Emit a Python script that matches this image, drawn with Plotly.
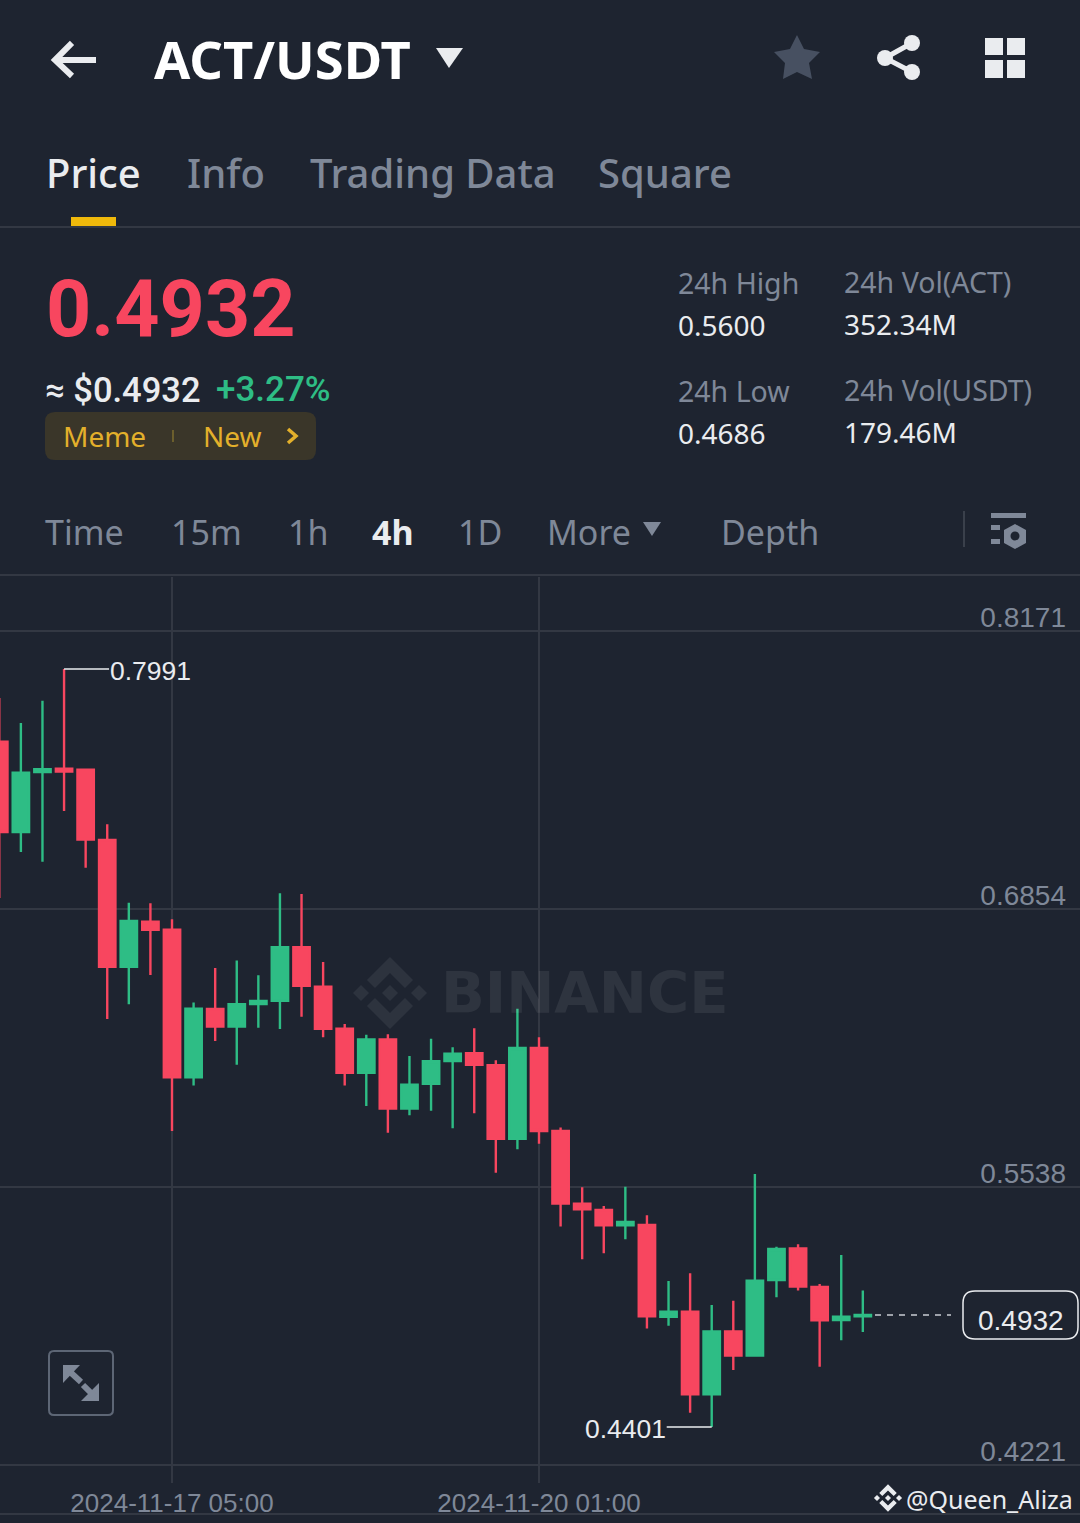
import pandas as pd
import plotly.graph_objects as go

W, H = 1080, 1523

BG = '#1E2430'
GRID = '#333843'
UP = '#2EBD85'
DOWN = '#F8465F'
WHITE = '#EAECEF'
GRAY = '#7F8898'
YELLOW = '#E3B02B'
UI_FONT = 'Noto Sans'
NUM_FONT = 'Roboto'
AXIS_FONT = 'Liberation Sans'

# ACT/USDT 4h candles, first one starts off the left edge
first_candle = '2024-11-15 21:00'
open_ = [0.7647, 0.7219, 0.7503, 0.7519, 0.7514, 0.7181, 0.6581, 0.6794, 0.6756, 0.6057, 0.6381,
         0.6297, 0.6404, 0.6419, 0.6674, 0.6486, 0.6287, 0.6078, 0.6237, 0.5909, 0.6026, 0.6134,
         0.6171, 0.6115, 0.5766, 0.6196, 0.5803, 0.5459, 0.5429, 0.5356, 0.5358, 0.4923, 0.4947,
         0.4556, 0.4854, 0.4739, 0.5097, 0.5247, 0.5064, 0.4907, 0.4925]
high = [0.7854, 0.7735, 0.7841, 0.7991, 0.7518, 0.7256, 0.6884, 0.6881, 0.6806, 0.6411, 0.6575,
        0.6610, 0.6540, 0.6929, 0.6925, 0.6603, 0.6310, 0.6259, 0.6261, 0.6158, 0.6240, 0.6199,
        0.6289, 0.6138, 0.6382, 0.6247, 0.5820, 0.5536, 0.5448, 0.5539, 0.5404, 0.5093, 0.5129,
        0.4979, 0.4999, 0.5599, 0.5255, 0.5266, 0.5078, 0.5216, 0.5047]
low = [0.6906, 0.7124, 0.7078, 0.7318, 0.7050, 0.6333, 0.6403, 0.6542, 0.5803, 0.6018, 0.6229,
       0.6117, 0.6292, 0.6286, 0.6344, 0.6247, 0.6018, 0.5921, 0.5795, 0.5877, 0.5899, 0.5816,
       0.5887, 0.5605, 0.5716, 0.5743, 0.5350, 0.5195, 0.5224, 0.5290, 0.4867, 0.4881, 0.4469,
       0.4401, 0.4671, 0.4734, 0.5015, 0.5048, 0.4686, 0.4812, 0.4851]
close = [0.7219, 0.7500, 0.7517, 0.7505, 0.7183, 0.6581, 0.6798, 0.6756, 0.6057, 0.6382, 0.6297,
         0.6403, 0.6419, 0.6674, 0.6491, 0.6287, 0.6079, 0.6237, 0.5909, 0.6022, 0.6134, 0.6169,
         0.6117, 0.5766, 0.6196, 0.5803, 0.5459, 0.5432, 0.5356, 0.5372, 0.4925, 0.4947, 0.4556,
         0.4854, 0.4739, 0.5094, 0.5244, 0.5066, 0.4906, 0.4923, 0.4932]

y_ticks = [0.8171, 0.6854, 0.5538, 0.4221]
x_ticks = ['2024-11-17 05:00', '2024-11-20 01:00']
last_price = 0.4932

dates = pd.date_range(first_candle, periods=len(close), freq='4h')

# pixel calibration of the chart area
chart_top, chart_bottom = 577, 1483
px_per_price = (1465 - 631) / (y_ticks[0] - y_ticks[-1])
y_range = [y_ticks[-1] - (chart_bottom - 1465) / px_per_price,
           y_ticks[0] + (631 - chart_top) / px_per_price]
hours_per_px = 68 / (539 - 172)
x_start = pd.Timestamp(x_ticks[0]) - pd.Timedelta(hours=172 * hours_per_px)
x_end = pd.Timestamp(x_ticks[0]) + pd.Timedelta(hours=(W - 172) * hours_per_px)


def px(x):
    return x / W


def py(y):
    return 1 - y / H


def poly(points, closed=True):
    d = 'M' + ' L'.join(f'{px(x):.5f},{py(y):.5f}' for x, y in points)
    return d + (' Z' if closed else '')


shapes = []


def fill_shape(points, color, opacity=1):
    shapes.append(dict(type='path', path=poly(points), xref='paper', yref='paper',
                       fillcolor=color, opacity=opacity, line_width=0, layer='below'))


def stroke_shape(points, color, width):
    shapes.append(dict(type='path', path=poly(points, closed=False), xref='paper', yref='paper',
                       line=dict(color=color, width=width), layer='below'))


def rect(x0, y0, x1, y1, color):
    fill_shape([(x0, y0), (x1, y0), (x1, y1), (x0, y1)], color)


def circle(cx, cy, r, color):
    shapes.append(dict(type='circle', xref='paper', yref='paper', x0=px(cx - r), x1=px(cx + r),
                       y0=py(cy + r), y1=py(cy - r), fillcolor=color, line_width=0, layer='below'))


def round_rect(x0, y0, x1, y1, r, fill=None, line=None, width=0):
    d = (f'M{px(x0 + r)},{py(y0)} L{px(x1 - r)},{py(y0)} Q{px(x1)},{py(y0)} {px(x1)},{py(y0 + r)} '
         f'L{px(x1)},{py(y1 - r)} Q{px(x1)},{py(y1)} {px(x1 - r)},{py(y1)} '
         f'L{px(x0 + r)},{py(y1)} Q{px(x0)},{py(y1)} {px(x0)},{py(y1 - r)} '
         f'L{px(x0)},{py(y0 + r)} Q{px(x0)},{py(y0)} {px(x0 + r)},{py(y0)} Z')
    shapes.append(dict(type='path', path=d, xref='paper', yref='paper', fillcolor=fill,
                       line=dict(color=line, width=width), layer='below'))


def logo(cx, cy, s, color, opacity=1):
    for dx in (-29, 0, 29):
        r = 8 * s
        c = cx + dx * s
        fill_shape([(c, cy - r), (c + r, cy), (c, cy + r), (c - r, cy)], color, opacity)
    for sign in (-1, 1):
        pts = [(0, 36), (23, 13), (15, 5), (0, 20), (-15, 5), (-23, 13)]
        fill_shape([(cx + a * s, cy + sign * b * s) for a, b in pts], color, opacity)


# separators
rect(0, 226, W, 228, GRID)
rect(0, 574, W, 576, GRID)
rect(0, 1513, W, 1515, GRID)
rect(71, 217, 116, 226, '#F0B90B')
rect(963, 511, 965, 547, '#3A404B')

# header icons
stroke_shape([(96, 60), (56, 60)], WHITE, 6)
stroke_shape([(72, 43), (55, 60), (72, 76)], WHITE, 6)
fill_shape([(436, 48), (463, 48), (449, 68)], WHITE)
fill_shape([(797, 35), (804, 49), (820, 52), (809, 63), (812, 79), (797, 72),
            (783, 79), (785, 63), (774, 52), (790, 49)], '#475061')
stroke_shape([(912, 43), (885, 58), (912, 72)], WHITE, 5)
for cy_, cx_ in [(43, 912), (58, 885), (72, 912)]:
    circle(cx_, cy_, 8, WHITE)
for x0_, x1_ in [(985, 1003), (1007, 1025)]:
    for y0_, y1_ in [(38, 55), (60, 78)]:
        rect(x0_, y0_, x1_, y1_, WHITE)

# tag box
round_rect(45, 412, 316, 460, 10, fill='#3A3629')
rect(172, 430, 174, 442, '#6C5F2D')
stroke_shape([(288, 429), (296, 436), (288, 443)], YELLOW, 3.5)

# interval row icons
fill_shape([(643, 522), (661, 522), (652, 536)], GRAY)
rect(991, 513, 1026, 518, GRAY)
rect(991, 525, 1000, 530, GRAY)
rect(991, 539, 1000, 544, GRAY)
fill_shape([(1015, 524), (1026, 530), (1026, 543), (1015, 549), (1004, 543), (1004, 530)], GRAY)
circle(1015, 536, 4.5, BG)

# expand button
round_rect(49, 1351, 113, 1415, 5, line='#5D6675', width=2)
fill_shape([(63, 1365), (80, 1365), (63, 1383)], GRAY)
stroke_shape([(68, 1370), (81, 1382)], GRAY, 6)
fill_shape([(99, 1401), (81, 1401), (99, 1383)], GRAY)
stroke_shape([(94, 1396), (83, 1385)], GRAY, 6)

# watermarks
logo(390, 993, 1, '#FFFFFF', 0.07)
logo(888, 1498, 0.38, WHITE)

# last price line and its label box
shapes.append(dict(type='line', xref='paper', yref='y', x0=px(875), x1=px(951), y0=last_price,
                   y1=last_price, line=dict(color='#C9CCD2', width=1.5, dash='6px,6px')))
round_rect(963, 1291, 1078, 1339, 12, fill=BG, line=WHITE, width=1.5)

annotations = []


def label(text, x, y, size, color=GRAY, family=UI_FONT, weight=400, anchor='left', opacity=None):
    annotations.append(dict(text=text, x=px(x), y=py(y), xref='paper', yref='paper', xanchor=anchor,
                            yanchor='middle', showarrow=False, opacity=opacity, borderpad=0, borderwidth=0,
                            font=dict(family=family, size=size, color=color, weight=weight)))


def extreme_marker(date, value, offset, anchor, shift_y):
    # white leader from the wick tip to the value text
    shapes.append(dict(type='line', xref='x', yref='y', xsizemode='pixel', xanchor=date, x0=0, x1=offset,
                       y0=value, y1=value, line=dict(color=WHITE, width=1.5)))
    annotations.append(dict(x=date, y=value, text=f'{value:.4f}', xref='x', yref='y', xshift=offset, yshift=shift_y,
                            xanchor=anchor, yanchor='middle', showarrow=False, borderpad=0,
                            font=dict(family=AXIS_FONT, size=26.5, color=WHITE)))


tabs = ['Price', 'Info', 'Trading Data', 'Square']
tab_x = [46, 187, 310, 598]
for name, x in zip(tabs, tab_x):
    label(name, x, 172, 40, WHITE if name == 'Price' else GRAY, weight=500)

intervals = ['Time', '15m', '1h', '4h', '1D', 'More', 'Depth']
interval_x = [45, 171, 288, 372, 458, 547, 721]
for name, x in zip(intervals, interval_x):
    if name == '4h':
        label(name, x, 532, 34, WHITE, weight=700)
    else:
        label(name, x, 532, 34)

stats = [('24h High', '0.5600', 678, 283), ('24h Vol(ACT)', '352.34M', 844, 282),
         ('24h Low', '0.4686', 678, 391), ('24h Vol(USDT)', '179.46M', 844, 390)]
for name, value, x, y in stats:
    label(name, x, y, 28.5)
    label(value, x, y + 42, 28, WHITE)

label('ACT/USDT', 154, 59, 52.5, '#FFFFFF', weight=700)
label('0.4932', 46, 309, 79, DOWN, NUM_FONT, 700)
label('≈ $0.4932', 45, 390, 34.5, WHITE, NUM_FONT, 500)
label('+3.27%', 216, 390, 35, UP, NUM_FONT, 500)
label('Meme', 63, 436, 28, YELLOW)
label('New', 203, 436, 28, YELLOW)
label('BINANCE', 441, 993, 57.5, '#FFFFFF', 'DejaVu Sans', 700, opacity=0.07)
label('@Queen_Aliza', 906, 1499, 25, WHITE)
label(f'{last_price:.4f}', 978, 1320, 28, WHITE, AXIS_FONT)

# highest and lowest markers
extreme_marker(dates[high.index(max(high))], max(high), 45, 'left', -2)
extreme_marker(dates[low.index(min(low))], min(low), -45, 'right', -2)

fig = go.Figure(go.Candlestick(
    x=dates, open=open_, high=high, low=low, close=close,
    increasing=dict(line=dict(color=UP, width=2.4), fillcolor=UP),
    decreasing=dict(line=dict(color=DOWN, width=2.4), fillcolor=DOWN),
    hoverinfo='skip',
))

fig.update_layout(
    width=W, height=H, margin=dict(l=0, r=0, t=0, b=0, pad=0),
    paper_bgcolor=BG, plot_bgcolor=BG, showlegend=False, boxgap=0.24, boxgroupgap=0,
    shapes=shapes, annotations=annotations,
    xaxis=dict(type='date', range=[x_start, x_end], rangeslider_visible=False, tickvals=x_ticks,
               tickformat='%Y-%m-%d %H:%M', showgrid=True, gridcolor=GRID, gridwidth=2, zeroline=False,
               showline=False, ticks='', ticklen=0, ticklabelstandoff=2,
               tickfont=dict(family=AXIS_FONT, size=26, color=GRAY), domain=[0, 1], anchor='y'),
    yaxis=dict(range=y_range, tickvals=y_ticks, tickformat='.4f', side='right', ticklabelposition='inside top',
               ticklabelstandoff=11, ticklabelshift=6, showgrid=True, gridcolor=GRID, gridwidth=2,
               zeroline=False, showline=False, ticks='', tickfont=dict(family=AXIS_FONT, size=28, color=GRAY),
               domain=[py(chart_bottom), py(chart_top)], anchor='x'),
)

fig.write_html('out.html', config=dict(displayModeBar=False),
               post_script="document.body.style.margin='0';")
